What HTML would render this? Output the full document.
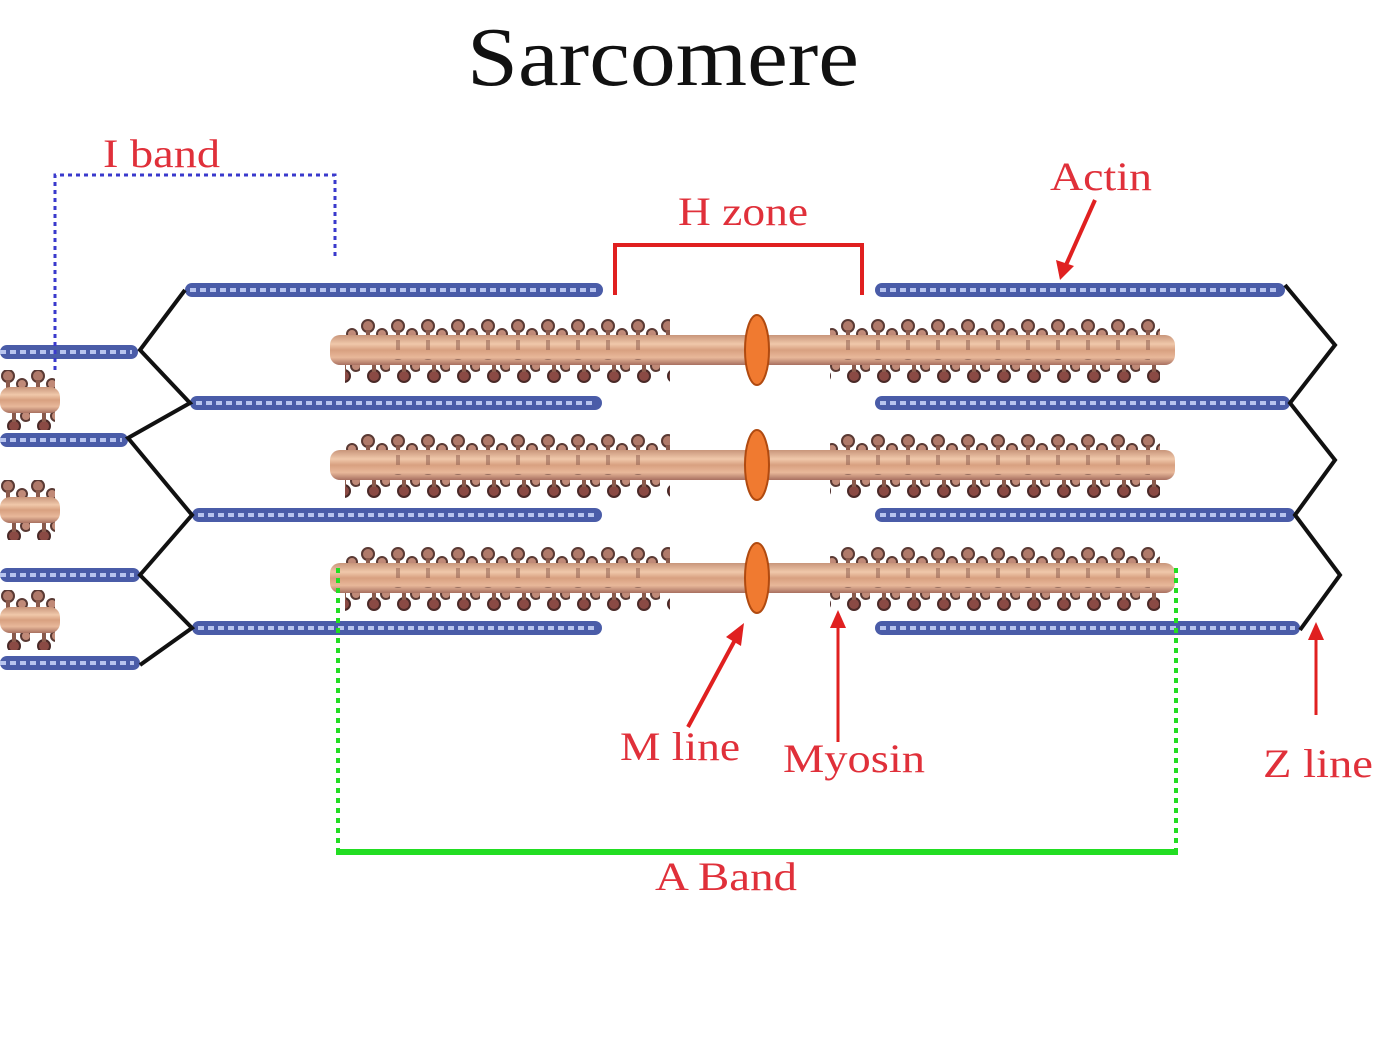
<!DOCTYPE html>
<html><head><meta charset="utf-8"><style>
html,body{margin:0;padding:0;background:#fff;}
svg{display:block;}
.lbl{font-family:"Liberation Serif",serif;fill:#e0303a;font-size:40px;}
</style></head><body>
<svg width="1400" height="1040" viewBox="0 0 1400 1040" xmlns="http://www.w3.org/2000/svg">
<defs>
  <pattern id="headsUp" x="0" y="0" width="30" height="40" patternUnits="userSpaceOnUse">
    <circle cx="8" cy="16" r="6" fill="#b07a6a" stroke="#5a3a34" stroke-width="2"/>
    <circle cx="22" cy="24" r="5" fill="#c08a78" stroke="#5a3a34" stroke-width="2"/>
    <rect x="6" y="20" width="4" height="20" fill="#8a5a4c"/>
  </pattern>
  <pattern id="headsDn" x="0" y="0" width="30" height="40" patternUnits="userSpaceOnUse">
    <circle cx="14" cy="26" r="6" fill="#8a4a44" stroke="#4a2a28" stroke-width="2"/>
    <circle cx="26" cy="16" r="5" fill="#c08a78" stroke="#5a3a34" stroke-width="2"/>
    <rect x="12" y="0" width="4" height="22" fill="#8a5a4c"/>
  </pattern>
  <linearGradient id="body" x1="0" y1="0" x2="0" y2="1">
    <stop offset="0" stop-color="#c8957a"/>
    <stop offset="0.3" stop-color="#f0c8aa"/>
    <stop offset="0.5" stop-color="#d8a080"/>
    <stop offset="0.75" stop-color="#e8b89a"/>
    <stop offset="1" stop-color="#a87060"/>
  </linearGradient>
  <g id="myo">
    <rect x="345" y="-40" width="325" height="40" fill="url(#headsUp)"/>
    <rect x="830" y="-40" width="330" height="40" fill="url(#headsUp)"/>
    <rect x="345" y="0" width="325" height="40" fill="url(#headsDn)"/>
    <rect x="830" y="0" width="330" height="40" fill="url(#headsDn)"/>
    <rect x="330" y="-15" width="845" height="30" rx="10" fill="url(#body)"/>
    <rect x="380" y="-10" width="280" height="20" fill="url(#headsUp)" opacity="0.5"/>
    <rect x="840" y="-10" width="310" height="20" fill="url(#headsUp)" opacity="0.5"/>
    <ellipse cx="757" cy="0" rx="12" ry="35" fill="#f07a30" stroke="#b04a10" stroke-width="2"/>
  </g>
  <g id="myoS">
    <rect x="0" y="-30" width="55" height="30" fill="url(#headsUp)"/>
    <rect x="0" y="0" width="55" height="30" fill="url(#headsDn)"/>
    <rect x="0" y="-13" width="60" height="26" rx="10" fill="url(#body)"/>
  </g>
</defs>

<text x="663" y="85" text-anchor="middle" font-family="Liberation Serif,serif" font-size="84" fill="#111" textLength="392" lengthAdjust="spacingAndGlyphs">Sarcomere</text>

<!-- actin -->
<g fill="#4a5ca8">
  <rect x="185" y="283" width="418" height="14" rx="7"/>
  <rect x="190" y="396" width="412" height="14" rx="7"/>
  <rect x="192" y="508" width="410" height="14" rx="7"/>
  <rect x="192" y="621" width="410" height="14" rx="7"/>
  <rect x="875" y="283" width="410" height="14" rx="7"/>
  <rect x="875" y="396" width="415" height="14" rx="7"/>
  <rect x="875" y="508" width="420" height="14" rx="7"/>
  <rect x="875" y="621" width="425" height="14" rx="7"/>
  <rect x="0" y="345" width="138" height="14" rx="7"/>
  <rect x="0" y="433" width="128" height="14" rx="7"/>
  <rect x="0" y="568" width="140" height="14" rx="7"/>
  <rect x="0" y="656" width="140" height="14" rx="7"/>
</g>
<g stroke="#b8c4ee" stroke-width="4" stroke-dasharray="6,4">
  <line x1="190" y1="290" x2="598" y2="290"/>
  <line x1="196" y1="403" x2="596" y2="403"/>
  <line x1="198" y1="515" x2="596" y2="515"/>
  <line x1="198" y1="628" x2="596" y2="628"/>
  <line x1="880" y1="290" x2="1280" y2="290"/>
  <line x1="880" y1="403" x2="1285" y2="403"/>
  <line x1="880" y1="515" x2="1290" y2="515"/>
  <line x1="880" y1="628" x2="1295" y2="628"/>
  <line x1="0" y1="352" x2="132" y2="352"/>
  <line x1="0" y1="440" x2="122" y2="440"/>
  <line x1="0" y1="575" x2="134" y2="575"/>
  <line x1="0" y1="663" x2="134" y2="663"/>
</g>

<!-- Z lines -->
<polyline points="185,290 140,350 190,403 128,438 192,515 140,575 192,628 140,665" fill="none" stroke="#111" stroke-width="4"/>
<polyline points="1285,285 1335,345 1290,403 1335,460 1295,515 1340,575 1300,630" fill="none" stroke="#111" stroke-width="4"/>

<!-- myosin -->
<use href="#myo" transform="translate(0,350)"/>
<use href="#myo" transform="translate(0,465)"/>
<use href="#myo" transform="translate(0,578)"/>
<use href="#myoS" transform="translate(0,400)"/>
<use href="#myoS" transform="translate(0,510)"/>
<use href="#myoS" transform="translate(0,620)"/>

<!-- I band -->
<polyline points="55,370 55,175 335,175 335,258" fill="none" stroke="#3a3acc" stroke-width="3" stroke-dasharray="4,4"/>
<text class="lbl" x="103" y="167" textLength="117" lengthAdjust="spacingAndGlyphs">I band</text>

<!-- H zone -->
<polyline points="615,295 615,245 862,245 862,295" fill="none" stroke="#e02020" stroke-width="4"/>
<text class="lbl" x="678" y="225" textLength="130" lengthAdjust="spacingAndGlyphs">H zone</text>

<!-- Actin -->
<text class="lbl" x="1050" y="190" textLength="102" lengthAdjust="spacingAndGlyphs">Actin</text>
<line x1="1095" y1="200" x2="1066" y2="265" stroke="#e02020" stroke-width="4"/>
<polygon points="1060,280 1056,260 1074,266" fill="#e02020"/>

<!-- M line -->
<line x1="688" y1="727" x2="735" y2="640" stroke="#e02020" stroke-width="4"/>
<polygon points="744,623 741,646 726,637" fill="#e02020"/>
<text class="lbl" x="620" y="760" textLength="120" lengthAdjust="spacingAndGlyphs">M line</text>

<!-- Myosin -->
<line x1="838" y1="742" x2="838" y2="625" stroke="#e02020" stroke-width="3"/>
<polygon points="838,610 830,628 846,628" fill="#e02020"/>
<text class="lbl" x="783" y="772" textLength="142" lengthAdjust="spacingAndGlyphs">Myosin</text>

<!-- Z line -->
<line x1="1316" y1="715" x2="1316" y2="638" stroke="#e02020" stroke-width="3"/>
<polygon points="1316,622 1308,640 1324,640" fill="#e02020"/>
<text class="lbl" x="1263" y="777" textLength="110" lengthAdjust="spacingAndGlyphs">Z line</text>

<!-- A band -->
<line x1="338" y1="568" x2="338" y2="850" stroke="#22dd22" stroke-width="4" stroke-dasharray="5,5"/>
<line x1="1176" y1="568" x2="1176" y2="850" stroke="#22dd22" stroke-width="4" stroke-dasharray="5,5"/>
<line x1="336" y1="852" x2="1178" y2="852" stroke="#22dd22" stroke-width="6"/>
<text class="lbl" x="655" y="890" textLength="142" lengthAdjust="spacingAndGlyphs">A Band</text>
</svg>
</body></html>
